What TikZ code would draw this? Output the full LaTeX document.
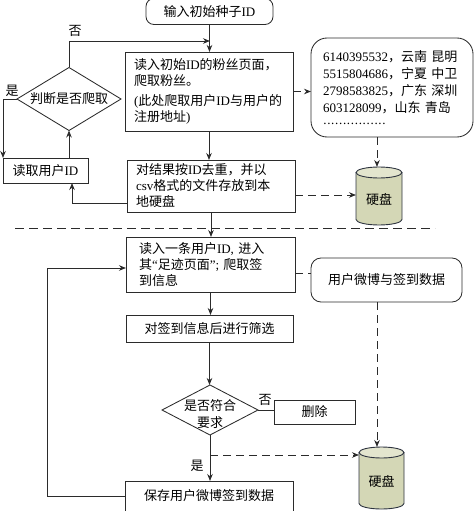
\documentclass[tikz,border=0pt]{standalone}
\usepackage{fontspec}
\setmainfont{Liberation Serif}
\newfontfamily\cjk{Noto Sans CJK SC}
\newcommand\zh[1]{{\cjk #1}}
\usetikzlibrary{arrows.meta}
\definecolor{linec}{HTML}{2B2B2B}
\definecolor{diskbody}{HTML}{D4D7B6}
\definecolor{disktop}{HTML}{E3E5CE}
\definecolor{diskedge}{HTML}{2E3440}
\newcommand\diskshape[2]{%
 \path[fill=diskbody] ([yshift=-5.5pt]#1.north west) -- ([yshift=5.5pt]#1.south west) arc[start angle=180,end angle=360,x radius=#2pt,y radius=5.5pt] -- ([yshift=-5.5pt]#1.north east) arc[start angle=0,end angle=180,x radius=#2pt,y radius=5.5pt] -- cycle;
 \path[fill=disktop, draw=diskedge, line width=0.9pt] ([yshift=-5.5pt]#1.north) ellipse[x radius=#2pt, y radius=5.5pt];
 \path[draw=diskedge, line width=0.9pt] ([yshift=-5.5pt]#1.north west) -- ([yshift=5.5pt]#1.south west) arc[start angle=180,end angle=360,x radius=#2pt,y radius=5.5pt] -- ([yshift=-5.5pt]#1.north east);
}
\begin{document}
\begin{tikzpicture}[x=1pt,y=-1pt,
  font=\fontsize{13}{16}\selectfont,
  box/.style={draw=linec, line width=0.85pt, rectangle, inner sep=0pt, outer sep=0pt},
  plain/.style={inner sep=0pt, outer sep=0pt},
  arr/.style={draw=linec, line width=0.85pt, -{Stealth[length=7pt,width=5.5pt]}},
  ln/.style={draw=linec, line width=0.85pt},
  darr/.style={arr, dash pattern=on 8pt off 5pt},
  dln/.style={ln, dash pattern=on 8pt off 5pt}]
\useasboundingbox (0,0) rectangle (474,511);

% top part
\node[box, rounded corners=8pt, minimum width=127pt, minimum height=26pt] (start) at (209.5,11.5) {\zh{输入初始种子}ID};
\node[box, minimum width=168pt, minimum height=79pt, text width=150pt, inner xsep=9pt, align=left] (b1) at (209,91.5)
 {\zh{读入初始}ID\zh{的粉丝页面，}\\\zh{爬取粉丝。}\\[4pt](\zh{此处爬取用户}ID\zh{与用户的}\\\zh{注册地址})};
\node[plain, minimum width=104pt, minimum height=63pt] (d1) at (69,99) {\zh{判断是否爬取}};
\draw[ln] (d1.north) -- (d1.east) -- (d1.south) -- (d1.west) -- cycle;
\node[box, minimum width=85pt, minimum height=25pt] (rid) at (45.5,170.5) {\zh{读取用户}ID};
\node[box, minimum width=168pt, minimum height=52pt, text width=150pt, inner xsep=9pt, align=left] (b2) at (211,186)
 {\zh{对结果按}ID\zh{去重，并以}\\csv\zh{格式的文件存放到本}\\\zh{地硬盘}};
\node[box, rounded corners=16pt, minimum width=162pt, minimum height=99pt, text width=138pt, inner xsep=12pt, align=left,
  font=\fontsize{13}{17}\selectfont] (cal) at (392,87.5)
 {6140395532\zh{，云南 昆明}\\5515804686\zh{，宁夏 中卫}\\2798583825\zh{，广东 深圳}\\603128099\zh{，山东 青岛}\\[-5pt]\hbox to 63pt{\xleaders\hbox to 3.9pt{\hss.\hss}\hfill}};
\node[plain, minimum width=46pt, minimum height=58pt] (dk1) at (379,196) {};
\diskshape{dk1}{23}
\node at ([yshift=-4pt]dk1.center) {\zh{硬盘}};

% separator
\draw[dln, dash pattern=on 9pt off 5pt] (15,228) -- (435,228);

% bottom part
\node[box, minimum width=169pt, minimum height=55pt, text width=143pt, inner xsep=13pt, align=left] (b3) at (210.5,264.5)
 {\zh{读入一条用户}ID, \zh{进入}\\\zh{其}“\zh{足迹页面}”; \zh{爬取签}\\\zh{到信息}};
\node[box, rounded corners=10pt, minimum width=151pt, minimum height=44pt] (dat) at (386.5,280) {\zh{用户微博与签到数据}};
\node[box, minimum width=167pt, minimum height=27pt] (b4) at (209.5,328.5) {\zh{对签到信息后进行筛选}};
\node[plain, minimum width=96pt, minimum height=50pt] (d2) at (210,410) {};
\draw[ln] (d2.north) -- (d2.east) -- (d2.south) -- (d2.west) -- cycle;
\node[align=center, font=\fontsize{13}{17}\selectfont] at (210,414) {\zh{是否符合}\\\zh{要求}};
\node[box, minimum width=81pt, minimum height=24pt] (del) at (314.5,412) {\zh{删除}};
\node[box, minimum width=168pt, minimum height=30pt] (b5) at (209,496) {\zh{保存用户微博签到数据}};
\node[plain, minimum width=45pt, minimum height=62pt] (dk2) at (381.5,478) {};
\diskshape{dk2}{22.5}
\node at ([yshift=-4pt]dk2.center) {\zh{硬盘}};

% connectors top
\coordinate (j1) at (210,41);
\coordinate (k1c) at (72,203);
\coordinate (vx) at (377,0);
\coordinate (h1) at (0,195);
\draw[arr] (start.south) -- (start.south |- b1.north);
\draw[arr] (d1.north) |- (j1);
\node at (75,31) {\zh{否}};
\draw[arr] (d1.west) -| (rid.north west);
\node at (12,91) {\zh{是}};
\draw[arr] (d1.south |- rid.north) -- (d1.south);
\draw[arr] (b1.south) -- (b1.south |- b2.north);
\draw[arr] (k1c -| b2.west) -- (k1c) -- (k1c |- rid.south);
\draw[darr] (b1.east) -- (b1.east -| cal.west);
\draw[darr] (cal.south -| vx) -- (vx |- dk1.north);
\draw[darr] (h1 -| b2.east) -- (h1 -| dk1.west);

% connectors bottom
\coordinate (h2) at (0,273);
\coordinate (h3) at (0,455);
\coordinate (lx) at (47,0);
\coordinate (h4) at (0,268);
\draw[arr] (b2.south) -- (b2.south |- b3.north);
\draw[dln] (h2 -| b3.east) -- (h2 -| dat.west);
\draw[darr] (dat.south -| vx) -- (vx |- dk2.north);
\draw[arr] (b3.south) -- (b3.south |- b4.north);
\draw[arr] (b4.south) -- (b4.south |- d2.north);
\draw[ln] (d2.east) -- (d2.east -| del.west);
\node at (265,400) {\zh{否}};
\draw[arr] (d2.south) -- (d2.south |- b5.north);
\node at (197,466) {\zh{是}};
\draw[darr] (h3 -| d2.south) -- (h3 -| dk2.west);
\draw[arr] (b5.west) -| (lx |- h4) -- (h4 -| b3.west);
\end{tikzpicture}
\end{document}
